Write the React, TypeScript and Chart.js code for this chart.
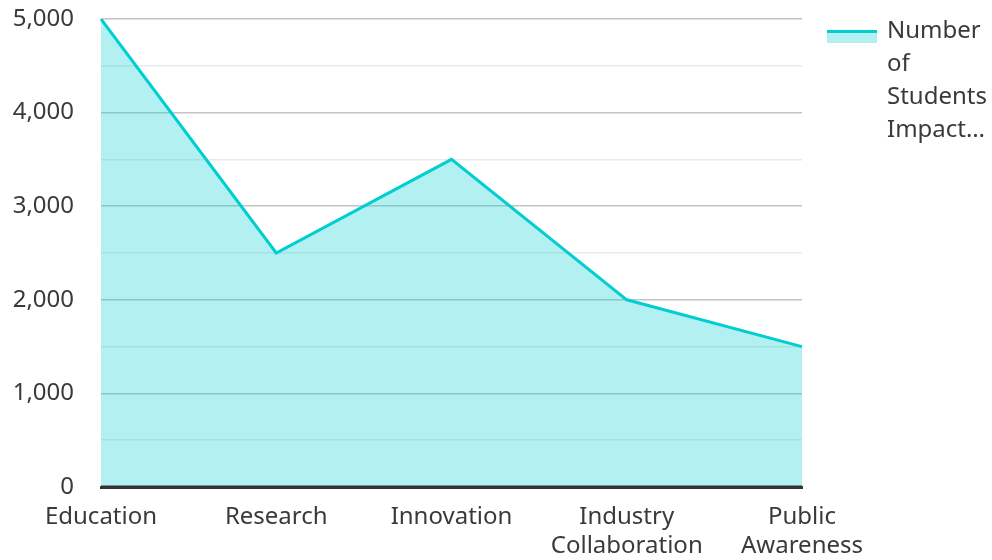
import React, { useEffect, useRef } from "react";
import { Chart, registerables } from "chart.js";

Chart.register(...registerables);

const categories: (string | string[])[] = [
  "Education",
  "Research",
  "Innovation",
  ["Industry", "Collaboration"],
  ["Public", "Awareness"],
];
const seriesLabel = "Number of Students Impacted";
const studentsImpacted = [5000, 2500, 3500, 2000, 1500];
const yMax = 5000;
const yStep = 500;

const FONT = '"Noto Sans", "Open Sans", sans-serif';
const LINE = "#00CED1";
const FILL = "rgba(0, 206, 209, 0.3)";
const TEXT = "#3a3a3a";
const AXIS = "#333333";

function wrapLabel(ctx: CanvasRenderingContext2D, text: string, maxW: number, maxLines: number): string[] {
  const words = text.split(" ");
  const lines: string[] = [];
  let cur = "";
  for (const w of words) {
    const t = cur ? cur + " " + w : w;
    if (ctx.measureText(t).width <= maxW || !cur) cur = t;
    else {
      lines.push(cur);
      cur = w;
    }
  }
  if (cur) lines.push(cur);
  const out = lines.slice(0, maxLines).map((l) => {
    if (ctx.measureText(l).width <= maxW) return l;
    let s = l;
    while (s.length > 1 && ctx.measureText(s + "…").width > maxW) s = s.slice(0, -1);
    return s + "…";
  });
  return out;
}

const axisLinePlugin = {
  id: "axisLineOnTop",
  afterDatasetsDraw(chart: any) {
    const ctx: CanvasRenderingContext2D = chart.ctx;
    const area = chart.chartArea;
    const y = chart.scales.y.getPixelForValue(0);
    ctx.save();
    ctx.strokeStyle = AXIS;
    ctx.lineWidth = 3;
    ctx.beginPath();
    ctx.moveTo(area.left, y);
    ctx.lineTo(area.right, y);
    ctx.stroke();
    ctx.restore();
  },
};

const legendPlugin = {
  id: "wrappedLegend",
  afterDraw(chart: any) {
    const ctx: CanvasRenderingContext2D = chart.ctx;
    const area = chart.chartArea;
    const boxX = area.right + 25;
    const boxW = 50;
    const top = area.top + 11;
    ctx.save();
    ctx.fillStyle = FILL;
    ctx.fillRect(boxX, top, boxW, 13);
    ctx.strokeStyle = LINE;
    ctx.lineWidth = 3;
    ctx.beginPath();
    ctx.moveTo(boxX, top + 1.5);
    ctx.lineTo(boxX + boxW, top + 1.5);
    ctx.stroke();
    ctx.font = `24px ${FONT}`;
    ctx.fillStyle = TEXT;
    ctx.textBaseline = "middle";
    ctx.textAlign = "left";
    const textX = boxX + boxW + 10;
    const lines = wrapLabel(ctx, chart.data.datasets[0].label, chart.width - textX - 2, 4);
    lines.forEach((l, i) => ctx.fillText(l, textX, top + 1 + i * 33));
    ctx.restore();
  },
};

export default function App() {
  const ref = useRef<HTMLCanvasElement>(null);
  useEffect(() => {
    if (!ref.current) return;
    const chart = new Chart(ref.current, {
      type: "line",
      data: {
        labels: categories,
        datasets: [
          {
            label: seriesLabel,
            data: studentsImpacted,
            borderColor: LINE,
            backgroundColor: FILL,
            borderWidth: 3,
            fill: "origin",
            tension: 0,
            pointRadius: 0,
            pointHoverRadius: 0,
          },
        ],
      },
      options: {
        animation: false,
        responsive: true,
        maintainAspectRatio: false,
        layout: { padding: { top: 19, right: 190, left: 0, bottom: 0 } },
        plugins: {
          legend: { display: false },
          tooltip: { enabled: false },
        },
        scales: {
          x: {
            offset: false,
            grid: { display: false, drawTicks: false },
            border: { display: true, color: AXIS, width: 3 },
            ticks: {
              color: TEXT,
              font: { family: FONT, size: 24 },
              padding: 16,
              maxRotation: 0,
              autoSkip: false,
            },
            afterFit: (scale: any) => {
              scale.height = 73;
            },
          },
          y: {
            min: 0,
            max: yMax,
            border: { display: false },
            grid: {
              drawTicks: false,
              lineWidth: 1.5,
              color: (c: any) => (c.tick && c.tick.value % 1000 === 0 ? "#c4c4c4" : "#eaeaea"),
            },
            ticks: {
              stepSize: yStep,
              color: TEXT,
              font: { family: FONT, size: 24 },
              padding: 27,
              callback: (v: any) => (Number(v) % 1000 === 0 ? Number(v).toLocaleString("en-US") : ""),
            },
            afterFit: (scale: any) => {
              scale.width = 101;
              scale.paddingTop = 0;
              scale.paddingBottom = 0;
            },
          },
        },
      },
      plugins: [axisLinePlugin, legendPlugin],
    });
    return () => chart.destroy();
  }, []);
  return (
    <div style={{ position: "absolute", left: 0, top: 0, width: 992, height: 560 }}>
      <canvas ref={ref} />
    </div>
  );
}
